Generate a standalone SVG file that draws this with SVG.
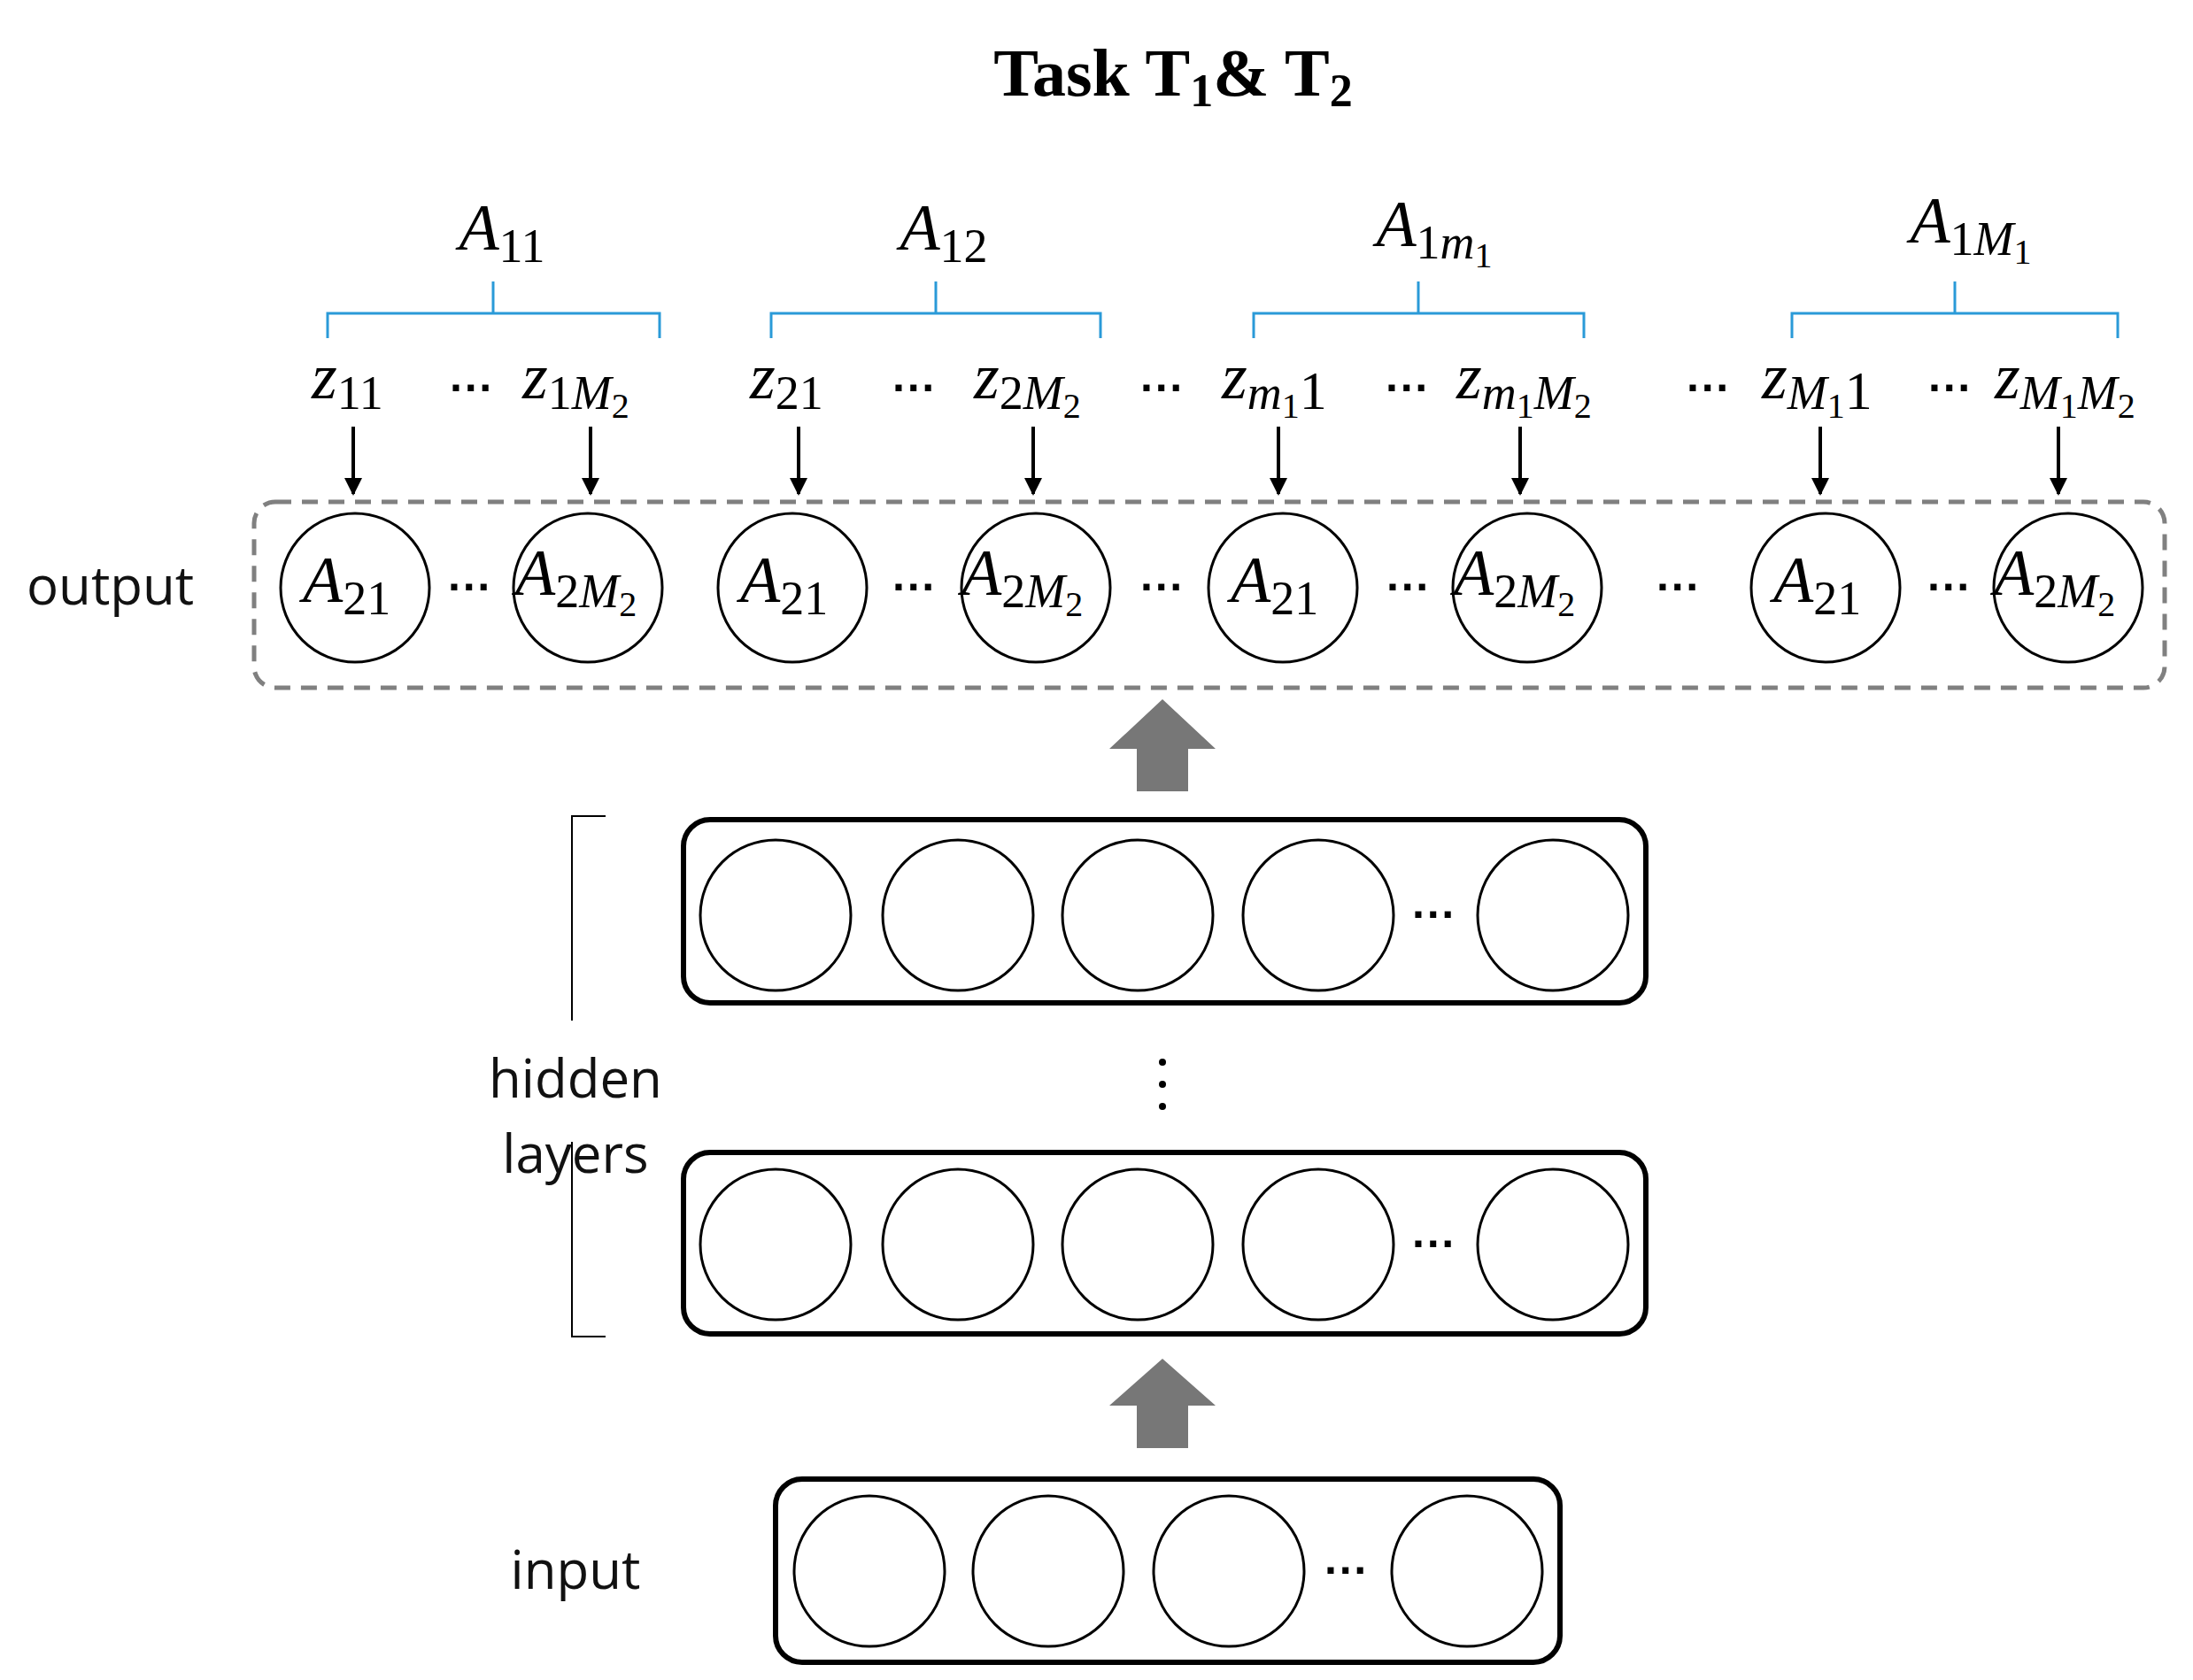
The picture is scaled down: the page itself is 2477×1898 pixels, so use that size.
<svg xmlns="http://www.w3.org/2000/svg" width="2477" height="1898" viewBox="0 0 2477 1898">
<style>
.m{font-family:"Liberation Serif",serif;font-style:italic;font-size:74px;fill:#000}
.s{font-size:54px}
.u{font-style:normal}
.lab{font-family:"Open Sans","Noto Sans",sans-serif;font-size:60px;fill:#111}
.dots{font-family:"Liberation Sans",sans-serif;font-size:50px;font-weight:bold;fill:#000;text-anchor:middle}
.c{fill:#fff;stroke:#000;stroke-width:3}
.box{fill:#fff;stroke:#000;stroke-width:6}
.br{fill:none;stroke:#2a9ad8;stroke-width:3}
</style>
<defs>
<marker id="ah" viewBox="0 0 10 10" refX="9" refY="5" markerWidth="5" markerHeight="6" orient="auto" markerUnits="strokeWidth"><path d="M0,0 L10,5 L0,10 z" fill="#000"/></marker>
</defs>
<rect width="2477" height="1898" fill="#fff"/>
<g id="title"><text x="1325" y="108" text-anchor="middle" font-family="Liberation Serif,serif" font-weight="bold" font-size="76">Task T<tspan font-size="52" dy="12">1</tspan><tspan dy="-12">&amp; T</tspan><tspan font-size="52" dy="12">2</tspan></text></g>
<g id="groupLabels" text-anchor="middle">
<text x="567" y="282" class="m">A<tspan class="s u" dy="14">11</tspan></text>
<text x="1066" y="282" class="m">A<tspan class="s u" dy="14">12</tspan></text>
<text x="1620" y="278" class="m">A<tspan class="s" dy="14"><tspan class="u">1</tspan>m<tspan class="u" font-size="40" dy="10">1</tspan></tspan></text>
<text x="2226" y="274" class="m">A<tspan class="s" dy="14"><tspan class="u">1</tspan>M<tspan class="u" font-size="40" dy="10">1</tspan></tspan></text>
</g>
<g id="braces">
<path class="br" d="M370,382 V354 H745 V382 M557,354 V318"/>
<path class="br" d="M871,382 V354 H1243 V382 M1057,354 V318"/>
<path class="br" d="M1416,382 V354 H1789 V382 M1602,354 V318"/>
<path class="br" d="M2024,382 V354 H2392 V382 M2208,354 V318"/>
</g>
<g id="zlabels">
<text x="352" y="450" class="m">z<tspan class="s u" dy="12">11</tspan></text>
<text x="533" y="455" class="dots">···</text>
<text x="590" y="450" class="m">z<tspan class="s" dy="12"><tspan class="u">1</tspan>M<tspan class="u" font-size="40" dy="10">2</tspan></tspan></text>
<text x="847" y="450" class="m">z<tspan class="s u" dy="12">21</tspan></text>
<text x="1033" y="455" class="dots">···</text>
<text x="1100" y="450" class="m">z<tspan class="s" dy="12"><tspan class="u">2</tspan>M<tspan class="u" font-size="40" dy="10">2</tspan></tspan></text>
<text x="1313" y="455" class="dots">···</text>
<text x="1380" y="450" class="m">z<tspan class="s" dy="12">m<tspan class="u" font-size="40" dy="10">1</tspan><tspan class="u" font-size="62" dy="-10">1</tspan></tspan></text>
<text x="1590" y="455" class="dots">···</text>
<text x="1645" y="450" class="m">z<tspan class="s" dy="12">m<tspan class="u" font-size="40" dy="10">1</tspan><tspan dy="-10">M</tspan><tspan class="u" font-size="40" dy="10">2</tspan></tspan></text>
<text x="1930" y="455" class="dots">···</text>
<text x="1990" y="450" class="m">z<tspan class="s" dy="12">M<tspan class="u" font-size="40" dy="10">1</tspan><tspan class="u" font-size="62" dy="-10">1</tspan></tspan></text>
<text x="2203" y="455" class="dots">···</text>
<text x="2253" y="450" class="m">z<tspan class="s" dy="12">M<tspan class="u" font-size="40" dy="10">1</tspan><tspan dy="-10">M</tspan><tspan class="u" font-size="40" dy="10">2</tspan></tspan></text>
</g>
<g id="connectors" stroke="#000" stroke-width="4" marker-end="url(#ah)">
<line x1="399" y1="482" x2="399" y2="558"/>
<line x1="667" y1="482" x2="667" y2="558"/>
<line x1="902" y1="482" x2="902" y2="558"/>
<line x1="1167" y1="482" x2="1167" y2="558"/>
<line x1="1444" y1="482" x2="1444" y2="558"/>
<line x1="1717" y1="482" x2="1717" y2="558"/>
<line x1="2056" y1="482" x2="2056" y2="558"/>
<line x1="2325" y1="482" x2="2325" y2="558"/>
</g>
<g id="outputLayer">
<rect x="287" y="567" width="2158" height="210" rx="24" fill="none" stroke="#808080" stroke-width="5" stroke-dasharray="18,12"/>
<text x="30" y="683" class="lab">output</text>
<g class="c">
<circle cx="401" cy="664" r="84"/><circle cx="664" cy="664" r="84"/>
<circle cx="895" cy="664" r="84"/><circle cx="1170" cy="664" r="84"/>
<circle cx="1449" cy="664" r="84"/><circle cx="1725" cy="664" r="84"/>
<circle cx="2062" cy="664" r="84"/><circle cx="2336" cy="664" r="84"/>
</g>
<text x="342" y="680" class="m">A<tspan class="s u" dy="14">21</tspan></text>
<text x="582" y="672" class="m">A<tspan class="s" dy="14"><tspan class="u">2</tspan>M<tspan class="u" font-size="40" dy="10">2</tspan></tspan></text>
<text x="836" y="680" class="m">A<tspan class="s u" dy="14">21</tspan></text>
<text x="1086" y="672" class="m">A<tspan class="s" dy="14"><tspan class="u">2</tspan>M<tspan class="u" font-size="40" dy="10">2</tspan></tspan></text>
<text x="1390" y="680" class="m">A<tspan class="s u" dy="14">21</tspan></text>
<text x="1642" y="672" class="m">A<tspan class="s" dy="14"><tspan class="u">2</tspan>M<tspan class="u" font-size="40" dy="10">2</tspan></tspan></text>
<text x="2003" y="680" class="m">A<tspan class="s u" dy="14">21</tspan></text>
<text x="2252" y="672" class="m">A<tspan class="s" dy="14"><tspan class="u">2</tspan>M<tspan class="u" font-size="40" dy="10">2</tspan></tspan></text>
<g class="dots"><text x="531" y="680">···</text><text x="1033" y="680">···</text><text x="1313" y="680">···</text><text x="1591" y="680">···</text><text x="1896" y="680">···</text><text x="2202" y="680">···</text></g>
</g>
<g id="bigArrows" fill="#777">
<path d="M1313,790 L1373,846 H1342 V894 H1284 V846 H1253 Z"/>
<path d="M1313,1535 L1373,1588 H1342 V1636 H1284 V1588 H1253 Z"/>
</g>
<g id="hidden1">
<rect class="box" x="772" y="926" width="1087" height="207" rx="30"/>
<g class="c"><circle cx="876" cy="1034" r="85"/><circle cx="1082" cy="1034" r="85"/><circle cx="1285" cy="1034" r="85"/><circle cx="1489" cy="1034" r="85"/><circle cx="1754" cy="1034" r="85"/></g>
<text x="1620" y="1050" class="dots">···</text>
</g>
<g id="vdots" fill="#000"><circle cx="1313" cy="1200" r="4"/><circle cx="1313" cy="1225" r="4"/><circle cx="1313" cy="1250" r="4"/></g>
<g id="hidden2">
<rect class="box" x="772" y="1302" width="1087" height="205" rx="30"/>
<g class="c"><circle cx="876" cy="1406" r="85"/><circle cx="1082" cy="1406" r="85"/><circle cx="1285" cy="1406" r="85"/><circle cx="1489" cy="1406" r="85"/><circle cx="1754" cy="1406" r="85"/></g>
<text x="1620" y="1422" class="dots">···</text>
</g>
<g id="hiddenLabel">
<path d="M684,922 H646 V1153 M646,1290 V1510 H684" fill="none" stroke="#000" stroke-width="2"/>
<text x="650" y="1240" class="lab" text-anchor="middle">hidden</text>
<text x="650" y="1325" class="lab" text-anchor="middle">layers</text>
</g>
<g id="input">
<rect class="box" x="876" y="1671" width="886" height="207" rx="30"/>
<g class="c"><circle cx="982" cy="1775" r="85"/><circle cx="1184" cy="1775" r="85"/><circle cx="1388" cy="1775" r="85"/><circle cx="1657" cy="1775" r="85"/></g>
<text x="1521" y="1791" class="dots">···</text>
<text x="650" y="1795" class="lab" text-anchor="middle">input</text>
</g>
</svg>
